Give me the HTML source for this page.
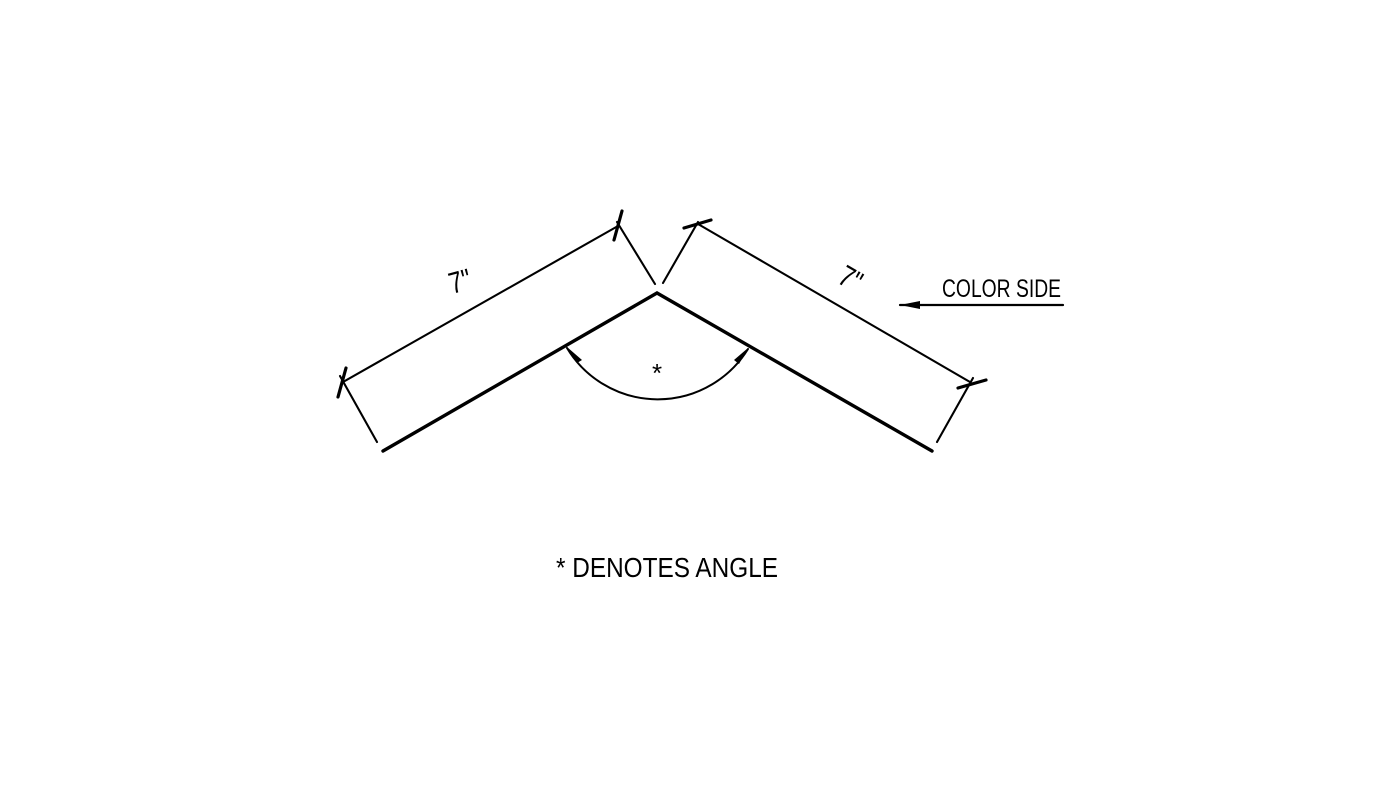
<!DOCTYPE html>
<html><head><style>html,body{margin:0;padding:0;background:#fff;}svg{display:block}</style></head>
<body>
<svg width="1400" height="788" viewBox="0 0 1400 788" xmlns="http://www.w3.org/2000/svg">
<g stroke="#000" fill="none" stroke-linecap="round">
<polyline points="383,451 657,293 932,451" stroke-width="3.4"/>
<line x1="343" y1="382" x2="618" y2="226" stroke-width="2.1"/>
<line x1="377" y1="442" x2="340" y2="376" stroke-width="2.1"/>
<line x1="338" y1="397" x2="346" y2="368" stroke-width="3.2"/>
<line x1="655" y1="284" x2="617" y2="222" stroke-width="2.1"/>
<line x1="614" y1="240" x2="622" y2="211" stroke-width="3.2"/>
<line x1="663" y1="283" x2="698" y2="222" stroke-width="2.1"/>
<line x1="684" y1="228" x2="711" y2="220" stroke-width="3.2"/>
<line x1="698" y1="224" x2="970" y2="382" stroke-width="2.1"/>
<line x1="958" y1="388" x2="986" y2="380" stroke-width="3.2"/>
<line x1="937" y1="442" x2="973" y2="378" stroke-width="2.1"/>
<path d="M567,348 A106,106 0 0 0 748,349" stroke-width="2"/>
<line x1="900" y1="305" x2="1063" y2="305" stroke-width="2.2"/>
</g>
<g fill="#000">
<polygon points="567,347 582,360 577,363"/>
<polygon points="748,348 739,364 734,360"/>
<polygon points="900,305 920,301 920,309"/>
</g>
<g font-family="Liberation Sans, sans-serif" fill="#000">
<text x="942" y="297" font-size="25" textLength="119" lengthAdjust="spacingAndGlyphs">COLOR SIDE</text>
<text x="0" y="0" font-size="30" transform="translate(452,294) rotate(-15) scale(0.8,1)">7"</text>
<text x="0" y="0" font-size="30" transform="translate(836,282) rotate(30) scale(0.8,1)">7"</text>
<text x="657" y="382" font-size="26" text-anchor="middle">*</text>
<text x="556" y="577" font-size="28" textLength="222" lengthAdjust="spacingAndGlyphs">* DENOTES ANGLE</text>
</g>
</svg>
</body></html>
